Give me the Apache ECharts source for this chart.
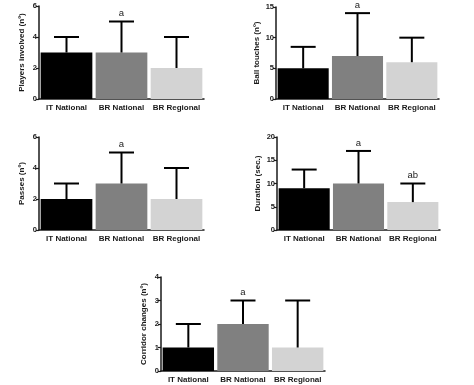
<!DOCTYPE html>
<html>
<head>
<meta charset="utf-8">
<script src="https://cdn.jsdelivr.net/npm/echarts@6/dist/echarts.min.js"></script>
<style>html,body{margin:0;padding:0;background:#fff}#c{width:474px;height:385px}</style>
</head>
<body>
<div id="c"></div>
<script>
const categories = ['IT National', 'BR National', 'BR Regional'];

const playersMean = [3, 3, 2];
const playersErr = [4, 5, 4];
const playersSig = ['', 'a', ''];

const touchesMean = [5, 7, 6];
const touchesErr = [8.5, 14, 10];
const touchesSig = ['', 'a', ''];

const passesMean = [2, 3, 2];
const passesErr = [3, 5, 4];
const passesSig = ['', 'a', ''];

const durationMean = [9, 10, 6];
const durationErr = [13, 17, 10];
const durationSig = ['', 'a', 'ab'];

const corridorMean = [1, 2, 1];
const corridorErr = [2, 3, 3];
const corridorSig = ['', 'a', ''];

const yTitles = ['Players involved (nº)', 'Ball touches (nº)', 'Passes (nº)', 'Duration (sec.)', 'Corridor changes (nº)'];
const yMax = [6, 15, 6, 20, 4];
const yInterval = [2, 5, 2, 5, 1];

const panels = [
  {mean: playersMean, err: playersErr, sig: playersSig},
  {mean: touchesMean, err: touchesErr, sig: touchesSig},
  {mean: passesMean, err: passesErr, sig: passesSig},
  {mean: durationMean, err: durationErr, sig: durationSig},
  {mean: corridorMean, err: corridorErr, sig: corridorSig}
];

const grids = [
  {left: 39, top: 6, width: 165, height: 93},
  {left: 276, top: 7, width: 163, height: 92},
  {left: 39, top: 137, width: 165, height: 93},
  {left: 277, top: 137, width: 163, height: 93},
  {left: 161, top: 277, width: 164, height: 94}
];
const nameGaps = [13, 15, 13, 15, 13];
const barColors = ['#000000', '#808080', '#d3d3d3'];
const FONT = 'Liberation Sans, Arial, sans-serif';

const xAxes = [], yAxes = [], series = [];
panels.forEach((p, i) => {
  xAxes.push({
    type: 'category', gridIndex: i, data: categories,
    axisLine: {show: true, lineStyle: {color: '#1a1a1a', width: 1.5}},
    axisTick: {show: false},
    axisLabel: {fontFamily: FONT, fontSize: 8, fontWeight: 'bold', color: '#1a1a1a', margin: 5, interval: 0}
  });
  yAxes.push({
    type: 'value', gridIndex: i, min: 0, max: yMax[i], interval: yInterval[i],
    name: yTitles[i], nameLocation: 'middle', nameGap: nameGaps[i],
    nameTextStyle: {fontFamily: FONT, fontSize: 8, fontWeight: 'bold', color: '#1a1a1a'},
    axisLine: {show: true, lineStyle: {color: '#1a1a1a', width: 1.5}},
    axisTick: {show: true, length: 3, lineStyle: {color: '#1a1a1a', width: 1.2}},
    axisLabel: {fontFamily: FONT, fontSize: 7.5, fontWeight: 'bold', color: '#1a1a1a', margin: 2},
    splitLine: {show: false}
  });
  series.push({
    type: 'bar', xAxisIndex: i, yAxisIndex: i, data: p.mean,
    barCategoryGap: '6%',
    itemStyle: {color: (params) => barColors[params.dataIndex]},
    silent: true, animation: false
  });
  series.push({
    type: 'custom', xAxisIndex: i, yAxisIndex: i,
    data: p.mean.map((m, k) => [k, m, p.err[k]]),
    animation: false, silent: true, z: 5,
    renderItem: (params, api) => {
      const k = api.value(0);
      const base = api.coord([k, api.value(1)]);
      const top = api.coord([k, api.value(2)]);
      const half = 12.5;
      const style = {stroke: '#000', lineWidth: 2};
      const children = [
        {type: 'line', shape: {x1: base[0], y1: base[1], x2: top[0], y2: top[1]}, style: style},
        {type: 'line', shape: {x1: top[0] - half, y1: top[1], x2: top[0] + half, y2: top[1]}, style: style}
      ];
      const s = p.sig[k];
      if (s) {
        children.push({type: 'text', x: top[0], y: top[1] - 3,
          style: {text: s, fill: '#222', font: '9.5px ' + FONT, align: 'center', verticalAlign: 'bottom'}});
      }
      return {type: 'group', children: children};
    }
  });
});

const chart = echarts.init(document.getElementById('c'), null, {renderer: 'canvas'});
chart.setOption({
  backgroundColor: '#fff',
  animation: false,
  grid: grids,
  xAxis: xAxes,
  yAxis: yAxes,
  series: series
});
</script>
</body>
</html>
